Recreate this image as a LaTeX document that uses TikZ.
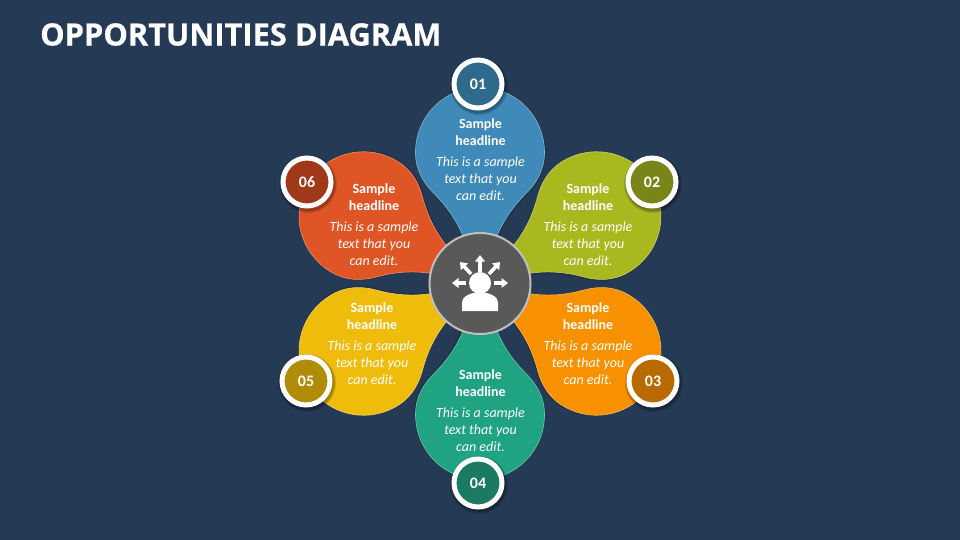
\documentclass[tikz,border=0pt]{standalone}
\usepackage{fontspec}
\setmainfont{Carlito}
\newfontfamily\titlefont{Open Sans}[BoldFeatures={FakeBold=0.5}]
\usetikzlibrary{arrows.meta}
\definecolor{bgc}{HTML}{253B55}
\definecolor{pa}{HTML}{3F8AB8}\definecolor{ba}{HTML}{2E6A8C}
\definecolor{pb}{HTML}{A9B81F}\definecolor{bb}{HTML}{7A8519}
\definecolor{pc}{HTML}{F79100}\definecolor{bc}{HTML}{B86A00}
\definecolor{pd}{HTML}{1FA383}\definecolor{bd}{HTML}{1A7A62}
\definecolor{pe}{HTML}{F0BC0B}\definecolor{be}{HTML}{B08C08}
\definecolor{pf}{HTML}{E05525}\definecolor{bf}{HTML}{A0381A}
\definecolor{hubc}{HTML}{595959}
\definecolor{hubr}{HTML}{BFBFBF}
\def\petalpath{(-14,-40) .. controls (-20,-56) and (-28,-72) .. (-46,-90)
  .. controls (-57,-101) and (-64.5,-114) .. (-64.5,-131)
  .. controls (-64.5,-167) and (-36,-196) .. (0,-196)
  .. controls (36,-196) and (64.5,-167) .. (64.5,-131)
  .. controls (64.5,-114) and (57,-101) .. (46,-90)
  .. controls (28,-72) and (20,-56) .. (14,-40) -- cycle}
\tikzset{
  x=1pt,y=-1pt,
  petal/.style={draw=#1!65!white,line width=0.6pt,fill=#1},
  badge/.style={circle,draw=white,line width=5pt,fill=#1,minimum size=48pt,inner sep=0pt,
    text=white,font=\fontsize{16}{16}\selectfont\bfseries},
  blurb/.style={text=white,align=center,inner sep=0pt,font=\fontsize{14}{17}\selectfont},
  hub/.style={circle,draw=hubr,line width=2pt,fill=hubc,minimum size=101pt,inner sep=0pt},
  ray/.style={draw=white,line width=3.6pt,-{Triangle[length=6.5pt,width=9.5pt]}},
}
\newcommand{\onepetal}[4]{%
  \begin{scope}[shift={(480+#3,283.5+#4)},rotate=#1]
    \foreach \o in {2,1} {\filldraw[black,opacity=0.08,line width=\o pt,shift={(0.4*\o,0.4*\o)}] \petalpath;}
    \path[petal=#2] \petalpath;
  \end{scope}}
\newcommand{\blurbtext}{\textbf{Sample}\\\textbf{headline}\\[4pt]\textit{This is a sample}\\\textit{text that you}\\\textit{can edit.}}
\newcommand{\softshadow}[2]{%
  \foreach \o in {6,4,2} {\fill[black,opacity=0.12] (#1+1,#2+2) circle[radius=26+\o/2];}}
\begin{document}
\begin{tikzpicture}
\useasboundingbox (0,0) rectangle (960,540);
\fill[bgc] (0,0) rectangle (960,540);
\node[anchor=west,inner sep=0pt,text=white,font=\titlefont\fontsize{30.8}{31}\selectfont\bfseries] (title) at (40,34.5) {OPPORTUNITIES DIAGRAM};
\onepetal{0}{pa}{0}{0}
\onepetal{-60}{pb}{2.5}{-1.5}
\onepetal{-120}{pc}{2.5}{1.5}
\onepetal{-180}{pd}{0}{0}
\onepetal{-240}{pe}{-2.5}{1.5}
\onepetal{-300}{pf}{-2.5}{-1.5}
\node[blurb] (t1) at (480.5,159.5) {\blurbtext};
\node[blurb] (t2) at (588,225) {\blurbtext};
\node[blurb] (t3) at (588,344) {\blurbtext};
\node[blurb] (t4) at (480.5,411) {\blurbtext};
\node[blurb] (t5) at (372,344) {\blurbtext};
\node[blurb] (t6) at (374,225) {\blurbtext};
\softshadow{478}{84}\softshadow{652}{182}\softshadow{653}{381}\softshadow{478}{483}\softshadow{306}{381}\softshadow{307}{182}
\node[badge=ba] (b1) at (478,84) {01};
\node[badge=bb] (b2) at (652,182) {02};
\node[badge=bc] (b3) at (653,381) {03};
\node[badge=bd] (b4) at (478,483) {04};
\node[badge=be] (b5) at (306,381) {05};
\node[badge=bf] (b6) at (307,182) {06};
\node[hub] (hub) at (480,283.5) {};
\fill[white] (480,283) circle[radius=11];
\fill[white] (462,311) -- (462,303) .. controls (462,297) and (467,295) .. (473,293) -- (487,293) .. controls (493,295) and (498,297) .. (498,303) -- (498,311) -- cycle;
\foreach \bx/\by/\tx/\ty in {480/272/480/255,489/274/500/262,471/274/460/262,494/283/508/283,466/283/452/283} {
  \coordinate (rs) at (\bx,\by);
  \coordinate (re) at (\tx,\ty);
  \draw[ray] (rs) -- (re);
}
\end{tikzpicture}
\end{document}
